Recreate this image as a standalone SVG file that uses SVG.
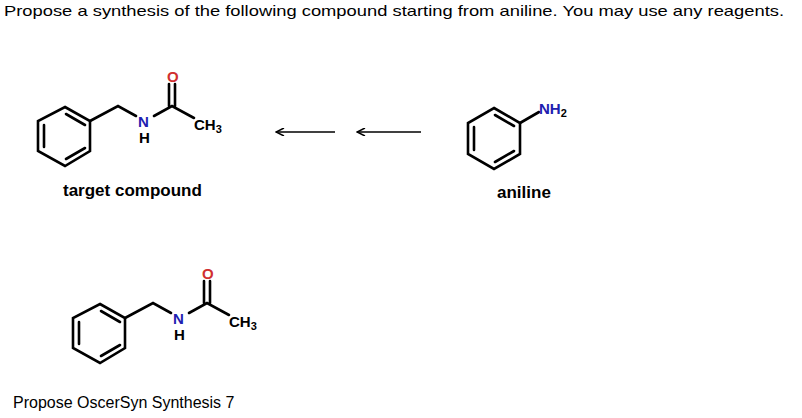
<svg xmlns="http://www.w3.org/2000/svg" width="802" height="418" viewBox="0 0 802 418">
<style>
.b{stroke:#000;stroke-width:2.6;fill:none;stroke-linecap:round}
.t{font-family:"Liberation Sans",Arial,sans-serif;fill:#000}
.a{font-family:"Liberation Sans",Arial,sans-serif;font-size:15px;font-weight:bold}
</style>
<defs>
<marker id="ah" markerWidth="10" markerHeight="8" refX="9" refY="4" orient="auto" markerUnits="userSpaceOnUse"><path d="M1,0 L9,4 L1,8" fill="none" stroke="#000" stroke-width="1.5"/></marker>
<g id="mol">
<path class="b" d="M65,107 L90,121 L90,151 L65,166 L38,151 L38,121 Z"/>
<path class="b" d="M44,125 L44,147 M66,114 L85,125 M66,159 L85,148"/>
<path class="b" d="M90,121 L118,106 L136,116 M154,116 L172,106 L194,118 M169,106 L169,84 M175,106 L175,84"/>
<text class="a" x="138" y="127" fill="#2020b0">N</text>
<text class="a" x="139" y="143" fill="#000">H</text>
<text class="a" x="167" y="82" fill="#d03030">O</text>
<text class="a" x="194" y="130" fill="#000" font-weight="normal">CH<tspan font-size="11" dy="3">3</tspan></text>
</g>
</defs>
<text class="t" x="4" y="16" font-size="15" textLength="780" lengthAdjust="spacingAndGlyphs">Propose a synthesis of the following compound starting from aniline.  You may use any reagents.</text>
<g id="target"><use href="#mol"/></g>
<text class="t" x="63" y="196" font-size="17" font-weight="bold">target compound</text>
<g id="connectors">
<line x1="335" y1="132" x2="276" y2="132" stroke="#000" stroke-width="1.5" marker-end="url(#ah)"/>
<line x1="421" y1="132" x2="357" y2="132" stroke="#000" stroke-width="1.5" marker-end="url(#ah)"/>
</g>
<g id="aniline">
<path class="b" d="M494,108 L520,123 L520,154 L494,169 L468,154 L468,123 Z"/>
<path class="b" d="M474,127 L474,150 M495,115 L514,126 M495,162 L514,151"/>
<path class="b" d="M520,123 L539,112"/>
<text class="a" x="539" y="114" fill="#2020b0">NH<tspan font-size="11" dy="3" fill="#000">2</tspan></text>
<text class="t" x="497" y="198" font-size="17" font-weight="bold">aniline</text>
</g>
<g id="answer"><use href="#mol" transform="translate(35,197)"/></g>
<text class="t" x="13" y="408" font-size="16">Propose OscerSyn Synthesis 7</text>
</svg>
